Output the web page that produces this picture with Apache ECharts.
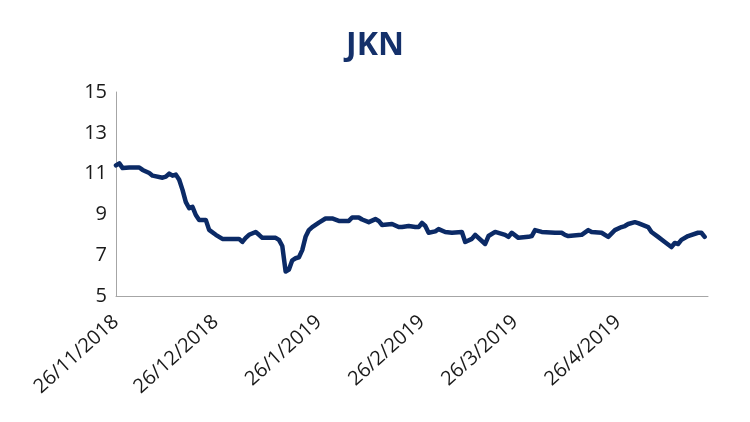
<!DOCTYPE html>
<html>
<head>
<meta charset="utf-8">
<title>JKN</title>
<script src="https://cdn.jsdelivr.net/npm/echarts@6/dist/echarts.min.js"></script>
<style>
    html, body { margin: 0; padding: 0; background: #ffffff; }
    #main { width: 750px; height: 422px; }
</style>
</head>
<body>
<div id="main"></div>
<script>
// 日期 / 股价
var dates = [
    '2018-11-26', '2018-11-27', '2018-11-28', '2018-11-30', '2018-12-03', '2018-12-04',
    '2018-12-06', '2018-12-07', '2018-12-10', '2018-12-11', '2018-12-12', '2018-12-13',
    '2018-12-14', '2018-12-15', '2018-12-16', '2018-12-17', '2018-12-18', '2018-12-19',
    '2018-12-20', '2018-12-21', '2018-12-23', '2018-12-24', '2018-12-26', '2018-12-28',
    '2019-01-02', '2019-01-03', '2019-01-04', '2019-01-05', '2019-01-07', '2019-01-08',
    '2019-01-09', '2019-01-13', '2019-01-14', '2019-01-15', '2019-01-16', '2019-01-17',
    '2019-01-18', '2019-01-19', '2019-01-20', '2019-01-21', '2019-01-22', '2019-01-23',
    '2019-01-24', '2019-01-26', '2019-01-28', '2019-01-30', '2019-02-01', '2019-02-04',
    '2019-02-05', '2019-02-07', '2019-02-08', '2019-02-10', '2019-02-12', '2019-02-13',
    '2019-02-14', '2019-02-17', '2019-02-19', '2019-02-20', '2019-02-22', '2019-02-24',
    '2019-02-25', '2019-02-26', '2019-02-27', '2019-02-28', '2019-03-02', '2019-03-03',
    '2019-03-05', '2019-03-07', '2019-03-10', '2019-03-11', '2019-03-13', '2019-03-14',
    '2019-03-17', '2019-03-18', '2019-03-20', '2019-03-23', '2019-03-24', '2019-03-25',
    '2019-03-27', '2019-03-30', '2019-03-31', '2019-04-01', '2019-04-03', '2019-04-07',
    '2019-04-09', '2019-04-10', '2019-04-11', '2019-04-15', '2019-04-17', '2019-04-18',
    '2019-04-21', '2019-04-23', '2019-04-25', '2019-04-27', '2019-04-28', '2019-04-29',
    '2019-05-01', '2019-05-02', '2019-05-05', '2019-05-06', '2019-05-08', '2019-05-10',
    '2019-05-12', '2019-05-13', '2019-05-14', '2019-05-15', '2019-05-17', '2019-05-20',
    '2019-05-21', '2019-05-22'
];
var prices = [
    11.4, 11.5, 11.27, 11.3, 11.3, 11.18,
    11.03, 10.9, 10.8, 10.85, 11.0, 10.9,
    10.95, 10.7, 10.2, 9.6, 9.3, 9.37,
    8.97, 8.73, 8.73, 8.24, 8.0, 7.8,
    7.8, 7.65, 7.85, 8.0, 8.14, 8.0,
    7.85, 7.85, 7.75, 7.45, 6.2, 6.3,
    6.75, 6.85, 6.9, 7.25, 7.9, 8.23,
    8.38, 8.6, 8.8, 8.8, 8.68, 8.68,
    8.85, 8.85, 8.75, 8.62, 8.77, 8.68,
    8.48, 8.53, 8.38, 8.38, 8.43, 8.38,
    8.38, 8.58, 8.43, 8.1, 8.17, 8.28,
    8.14, 8.1, 8.14, 7.65, 7.8, 8.0,
    7.55, 7.94, 8.14, 8.0, 7.9, 8.1,
    7.85, 7.9, 7.94, 8.23, 8.14, 8.1,
    8.1, 8.0, 7.94, 8.0, 8.23, 8.14,
    8.1, 7.9, 8.23, 8.38, 8.43, 8.53,
    8.62, 8.57, 8.38, 8.14, 7.9, 7.65,
    7.4, 7.6, 7.55, 7.75, 7.94, 8.1,
    8.1, 7.9
];
// x轴标签：每月26日
var tickDates = ['2018-11-26', '2018-12-26', '2019-01-26', '2019-02-26', '2019-03-26', '2019-04-26'];
var yTicks = [5, 7, 9, 11, 13, 15];

function toTime(s) {
    var p = s.split('-');
    return new Date(+p[0], +p[1] - 1, +p[2]).getTime();
}

var seriesData = [];
for (var i = 0; i < dates.length; i++) {
    seriesData.push([toTime(dates[i]), prices[i]]);
}

var myChart = echarts.init(document.getElementById('main'));
var option = {
    animation: false,
    backgroundColor: '#ffffff',
    title: {
        text: 'JKN',
        left: 'center',
        top: 25,
        textStyle: {
            color: '#14306a',
            fontFamily: 'Open Sans',
            fontSize: 32,
            fontWeight: 'bold'
        }
    },
    grid: {
        left: 116,
        right: 42,
        top: 92,
        bottom: 126
    },
    xAxis: {
        type: 'value',
        min: toTime('2018-11-26'),
        max: toTime('2019-05-23'),
        axisLine: {
            show: true,
            lineStyle: { color: '#a6a6a6', width: 1 }
        },
        axisTick: { show: false },
        splitLine: { show: false },
        axisLabel: {
            customValues: tickDates.map(toTime),
            rotate: 42,
            margin: 23,
            color: '#1a1a1a',
            fontFamily: 'Open Sans',
            fontSize: 20,
            formatter: function (val) {
                var d = new Date(val);
                return d.getDate() + '/' + (d.getMonth() + 1) + '/' + d.getFullYear();
            }
        }
    },
    yAxis: {
        type: 'value',
        min: yTicks[0],
        max: yTicks[yTicks.length - 1],
        interval: 2,
        axisLine: {
            show: true,
            lineStyle: { color: '#a6a6a6', width: 1 }
        },
        axisTick: { show: false },
        splitLine: { show: false },
        axisLabel: {
            margin: 9,
            color: '#1a1a1a',
            fontFamily: 'Open Sans',
            fontSize: 20
        }
    },
    series: [
        {
            name: 'JKN',
            type: 'line',
            data: seriesData,
            showSymbol: false,
            smooth: false,
            lineStyle: { color: '#0b2a66', width: 4.5, join: 'round', cap: 'round' }
        }
    ]
};
myChart.setOption(option);
</script>
</body>
</html>
